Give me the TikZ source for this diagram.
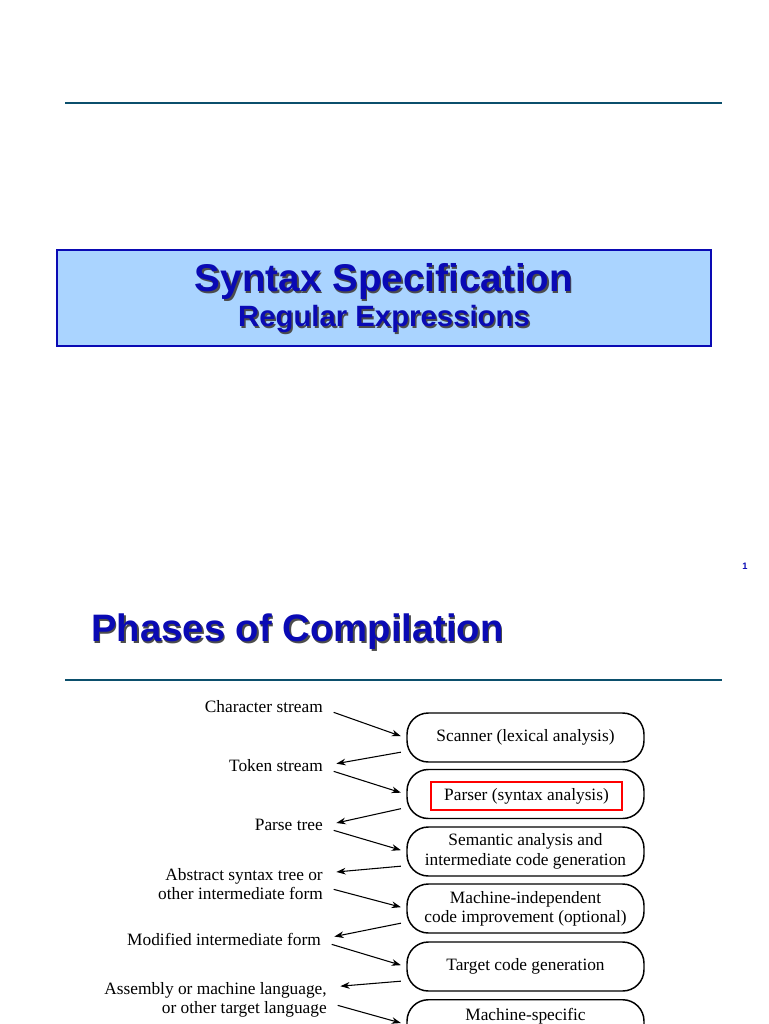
\documentclass[tikz,border=0pt]{standalone}
\usepackage{fontspec}
\setmainfont{Liberation Serif}
\newfontfamily\hd{Liberation Sans}
\usetikzlibrary{arrows.meta}
\definecolor{ttl}{HTML}{0A0AB4}
\definecolor{lb}{HTML}{AAD4FF}
\definecolor{teal}{HTML}{0B4F6C}
\begin{document}
\begin{tikzpicture}[x=0.75pt,y=-0.75pt,
  phase/.style={draw,line width=1.1pt,rounded corners=16pt,minimum width=237*0.75pt,minimum height=49*0.75pt,align=center,font=\fontsize{13}{14.5}\selectfont,inner sep=1pt},
  lab/.style={anchor=east,align=right,font=\fontsize{13}{14.5}\selectfont,inner sep=0pt},
  arr/.style={-{Stealth[length=7pt,width=5pt]},thick}]
\useasboundingbox (0,0) rectangle (768,1024);
\draw[teal,line width=2pt] (65,103) -- (722,103);
\node[draw=ttl,thick,fill=lb,minimum width=654*0.75pt,minimum height=96*0.75pt] (tb) at (384,298) {};
\foreach \dx/\c in {1.5/black!70,0/ttl}{
 \node[text=\c,font=\hd\bfseries\fontsize{29}{31}\selectfont] at (384+\dx,282+\dx) {Syntax Specification};
 \node[text=\c,font=\hd\bfseries\fontsize{22}{24}\selectfont] at (384+\dx,319+\dx) {Regular Expressions};
 \node[text=\c,font=\hd\bfseries\fontsize{28.7}{30}\selectfont,anchor=west,inner sep=0pt] at (91+\dx,632+\dx) {Phases of Compilation};
}
\node[text=ttl,font=\hd\bfseries\fontsize{7}{8}\selectfont] (pn) at (745,566) {1};
\draw[teal,line width=2pt] (65,680) -- (722,680);
\node[phase] (b1) at (525.5,737.5) {Scanner (lexical analysis)};
\node[phase] (b2) at (525.5,794) {\phantom{Parser (syntax analysis)}};
\node[draw=red,thick,minimum width=191*0.75pt,minimum height=28*0.75pt,font=\fontsize{13}{14.5}\selectfont,inner sep=1pt] (pr) at (526.5,796) {Parser (syntax analysis)};
\node[phase] (b3) at (525.5,851.5) {Semantic analysis and\\intermediate code generation};
\node[phase] (b4) at (525.5,908.5) {Machine-independent\\code improvement (optional)};
\node[phase] (b5) at (525.5,966.5) {Target code generation};
\node[phase,anchor=north] (b6) at (525.5,999) {Machine-specific\\\phantom{code}};
\node[lab] (l1) at (323,707) {Character stream};
\node[lab] (l2) at (323,766) {Token stream};
\node[lab] (l3) at (323,825) {Parse tree};
\node[lab] (l4) at (323,884) {Abstract syntax tree or\\other intermediate form};
\node[lab] (l5) at (321,939) {Modified intermediate form};
\node[lab] (l6) at (327,1000) {Assembly or machine language,\\or other target language};
\foreach \l/\b/\n in {l1/b1/l2,l2/b2/l3,l3/b3/l4,l4/b4/l5,l5/b5/l6}{
 \draw[arr] ([xshift=8pt,yshift=-4pt]\l.east) -- ([xshift=-4pt,yshift=1pt]\b.west);
 \draw[arr] ([xshift=-4pt,yshift=-11pt]\b.west) -- ([xshift=10pt,yshift=-3pt]\n.north east);
}
\draw[arr] ([xshift=8pt,yshift=-4pt]l6.east) -- ([xshift=-4pt,yshift=-18pt]b6.north west);
\end{tikzpicture}
\end{document}
